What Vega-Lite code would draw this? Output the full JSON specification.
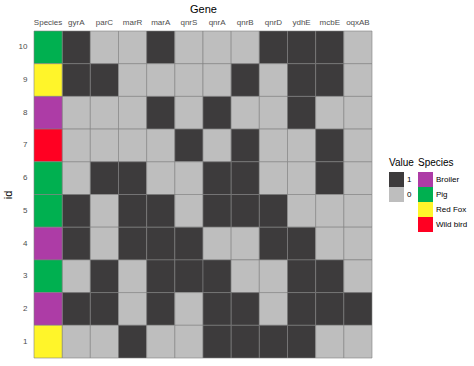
{
  "$schema": "https://vega.github.io/schema/vega-lite/v6.json",
  "autosize": "none",
  "padding": {"left": 34, "top": 31, "right": 102, "bottom": 8},
  "width": 338,
  "height": 327,
  "background": "white",
  "config": {
    "font": "Liberation Sans",
    "view": {"stroke": null},
    "axis": {"labelColor": "#4d4d4d", "labelFontSize": 8, "titleFontWeight": "normal", "titleColor": "#000000", "titleFontSize": 11, "ticks": false, "domain": false, "grid": false},
    "legend": {"titleFontWeight": "normal", "titleFontSize": 10, "titleColor": "#000000", "titlePadding": 4, "labelFontSize": 8, "labelColor": "#000000", "symbolType": "square", "symbolSize": 225, "symbolStrokeWidth": 0, "rowPadding": 0, "labelOffset": 3}
  },
  "data": {
    "values": [
      {"id": 10, "Species": "Pig", "gyrA": 1, "parC": 0, "marR": 0, "marA": 1, "qnrS": 0, "qnrA": 0, "qnrB": 0, "qnrD": 1, "ydhE": 1, "mcbE": 1, "oqxAB": 0},
      {"id": 9, "Species": "Red Fox", "gyrA": 1, "parC": 1, "marR": 0, "marA": 0, "qnrS": 0, "qnrA": 0, "qnrB": 1, "qnrD": 0, "ydhE": 1, "mcbE": 1, "oqxAB": 0},
      {"id": 8, "Species": "Broiler", "gyrA": 0, "parC": 0, "marR": 0, "marA": 1, "qnrS": 0, "qnrA": 1, "qnrB": 0, "qnrD": 0, "ydhE": 1, "mcbE": 0, "oqxAB": 0},
      {"id": 7, "Species": "Wild bird", "gyrA": 0, "parC": 0, "marR": 0, "marA": 0, "qnrS": 1, "qnrA": 0, "qnrB": 1, "qnrD": 0, "ydhE": 0, "mcbE": 1, "oqxAB": 0},
      {"id": 6, "Species": "Pig", "gyrA": 0, "parC": 1, "marR": 1, "marA": 0, "qnrS": 0, "qnrA": 1, "qnrB": 1, "qnrD": 0, "ydhE": 0, "mcbE": 1, "oqxAB": 0},
      {"id": 5, "Species": "Pig", "gyrA": 1, "parC": 0, "marR": 1, "marA": 1, "qnrS": 0, "qnrA": 1, "qnrB": 1, "qnrD": 1, "ydhE": 0, "mcbE": 0, "oqxAB": 0},
      {"id": 4, "Species": "Broiler", "gyrA": 1, "parC": 0, "marR": 1, "marA": 1, "qnrS": 1, "qnrA": 0, "qnrB": 0, "qnrD": 1, "ydhE": 1, "mcbE": 0, "oqxAB": 0},
      {"id": 3, "Species": "Pig", "gyrA": 0, "parC": 1, "marR": 0, "marA": 1, "qnrS": 1, "qnrA": 1, "qnrB": 0, "qnrD": 0, "ydhE": 1, "mcbE": 1, "oqxAB": 0},
      {"id": 2, "Species": "Broiler", "gyrA": 1, "parC": 1, "marR": 0, "marA": 1, "qnrS": 0, "qnrA": 1, "qnrB": 1, "qnrD": 0, "ydhE": 1, "mcbE": 1, "oqxAB": 1},
      {"id": 1, "Species": "Red Fox", "gyrA": 0, "parC": 0, "marR": 1, "marA": 0, "qnrS": 0, "qnrA": 1, "qnrB": 1, "qnrD": 1, "ydhE": 1, "mcbE": 0, "oqxAB": 0}
    ]
  },
  "encoding": {
    "y": {"field": "id", "type": "ordinal", "sort": "descending", "title": "id",
      "scale": {"paddingInner": 0, "paddingOuter": 0},
      "axis": {"labelPadding": 7, "titlePadding": 5, "titleFontWeight": "normal"}},
    "x": {"type": "nominal",
      "scale": {"domain": ["Species", "gyrA", "parC", "marR", "marA", "qnrS", "qnrA", "qnrB", "qnrD", "ydhE", "mcbE", "oqxAB"], "paddingInner": 0, "paddingOuter": 0},
      "axis": {"orient": "top", "title": "Gene", "labelAngle": 0, "labelPadding": 5, "titlePadding": 4, "titleFontWeight": "normal"}}
  },
  "layer": [
    {
      "transform": [{"fold": ["gyrA", "parC", "marR", "marA", "qnrS", "qnrA", "qnrB", "qnrD", "ydhE", "mcbE", "oqxAB"], "as": ["Gene", "Value"]}],
      "mark": {"type": "rect", "stroke": "#7f7f7f", "strokeWidth": 0.6},
      "encoding": {
        "x": {"field": "Gene", "type": "nominal", "title": "Gene"},
        "color": {"field": "Value", "type": "nominal", "title": "Value",
          "scale": {"domain": [1, 0], "range": ["#3d3b3c", "#bebebe"]},
          "legend": {"orient": "none", "legendX": 355, "legendY": 127}}
      }
    },
    {
      "mark": {"type": "rect", "stroke": "#7f7f7f", "strokeWidth": 0.6},
      "encoding": {
        "x": {"datum": "Species", "type": "nominal", "title": "Gene"},
        "fill": {"field": "Species", "type": "nominal", "title": "Species",
          "scale": {"domain": ["Broiler", "Pig", "Red Fox", "Wild bird"], "range": ["#ad3ca6", "#00b050", "#fff52a", "#ff0022"]},
          "legend": {"orient": "none", "legendX": 384, "legendY": 127}}
      }
    }
  ],
  "resolve": {"scale": {"color": "independent", "fill": "independent"}}
}
